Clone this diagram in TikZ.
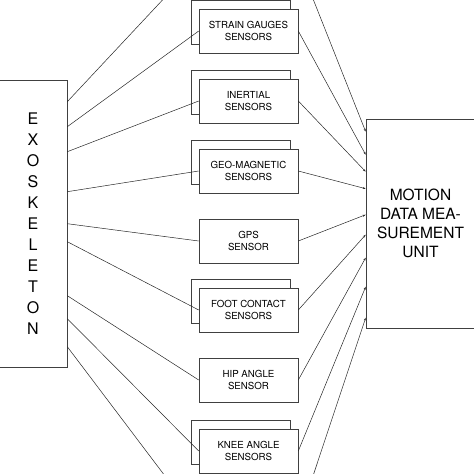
\documentclass[tikz,border=0pt]{standalone}
\usepackage{fontspec}
\setmainfont{TeX Gyre Heros}
\usetikzlibrary{calc,arrows.meta}
\tikzset{
  sensor/.style={draw=black!75, line width=0.6pt, fill=white, minimum width=99pt, minimum height=44pt, inner sep=0pt, align=center, font=\fontsize{9.7}{12.8}\selectfont},
  sensorback/.style={draw=black!75, line width=0.6pt, fill=white, minimum width=99pt, minimum height=44pt, inner sep=0pt},
  wire/.style={line width=0.5pt, black!85},
  wiretip/.style={wire, -{Stealth[length=3pt,width=2pt]}},
}
\begin{document}
\begin{tikzpicture}[x=1pt,y=-1pt]
% Exoesqueleto, sensores y unidad de medida
\useasboundingbox (0,0) rectangle (474,474);
\clip (0,0) rectangle (474,474);
\node[draw=black!75, line width=0.6pt, minimum width=68pt, minimum height=287pt, inner sep=0pt, align=center, font=\fontsize{16}{21}\selectfont] (exo) at (33,223.5) {E\\X\\O\\S\\K\\E\\L\\E\\T\\O\\N};
\node[draw=black!75, line width=0.6pt, minimum width=109pt, minimum height=209pt, inner sep=0pt, align=center, font=\fontsize{15.5}{19}\selectfont] (mdmu) at (420.5,223.5) {MOTION\\DATA MEA-\\SUREMENT\\UNIT};
\node[sensorback] at (240.5,22) {};
\node[sensor] (sg) at (248.5,31) {STRAIN GAUGES\\SENSORS};
\node[sensorback] at (240.5,92) {};
\node[sensor] (ine) at (248.5,101) {INERTIAL\\SENSORS};
\node[sensorback] at (240.5,162) {};
\node[sensor] (geo) at (248.5,171) {GEO-MAGNETIC\\SENSORS};
\node[sensor] (gps) at (248.5,241) {GPS\\SENSOR};
\node[sensorback] at (240.5,301) {};
\node[sensor] (foot) at (248.5,310) {FOOT CONTACT\\SENSORS};
\node[sensor] (hip) at (248.5,380) {HIP ANGLE\\SENSOR};
\node[sensorback] at (240.5,442) {};
\node[sensor] (knee) at (248.5,451) {KNEE ANGLE\\SENSORS};
\coordinate (upw) at (199,-39);
\coordinate (upe) at (298,-39);
\coordinate (dnw) at (199,521);
\coordinate (dne) at (298,521);
\draw[wire] ($(exo.north east)+(0,22)$) -- (upw);
\draw[wire] ($(exo.north east)+(0,47)$) -- (sg.west);
\draw[wire] ($(exo.north east)+(0,72)$) -- (ine.west);
\draw[wire] ($(exo.north east)+(0,112)$) -- (geo.west);
\draw[wire] ($(exo.north east)+(0,144)$) -- (gps.west);
\draw[wire] ($(exo.north east)+(0,162)$) -- (foot.west);
\draw[wire] ($(exo.north east)+(0,216)$) -- (hip.west);
\draw[wire] ($(exo.north east)+(0,239)$) -- (knee.west);
\draw[wire] ($(exo.north east)+(0,267)$) -- (dnw);
\draw[wiretip] (upe) -- ($(mdmu.north west)+(0,13)$);
\draw[wiretip] (sg.east) -- ($(mdmu.north west)+(0,36)$);
\draw[wiretip] (ine.east) -- ($(mdmu.north west)+(0,53)$);
\draw[wiretip] (geo.east) -- ($(mdmu.north west)+(0,70)$);
\draw[wiretip] (gps.east) -- ($(mdmu.north west)+(0,96)$);
\draw[wiretip] (foot.east) -- ($(mdmu.north west)+(0,116)$);
\draw[wiretip] (hip.east) -- ($(mdmu.north west)+(0,139)$);
\draw[wiretip] (knee.east) -- ($(mdmu.north west)+(0,168)$);
\draw[wiretip] (dne) -- ($(mdmu.north west)+(0,199)$);
\end{tikzpicture}
\end{document}
